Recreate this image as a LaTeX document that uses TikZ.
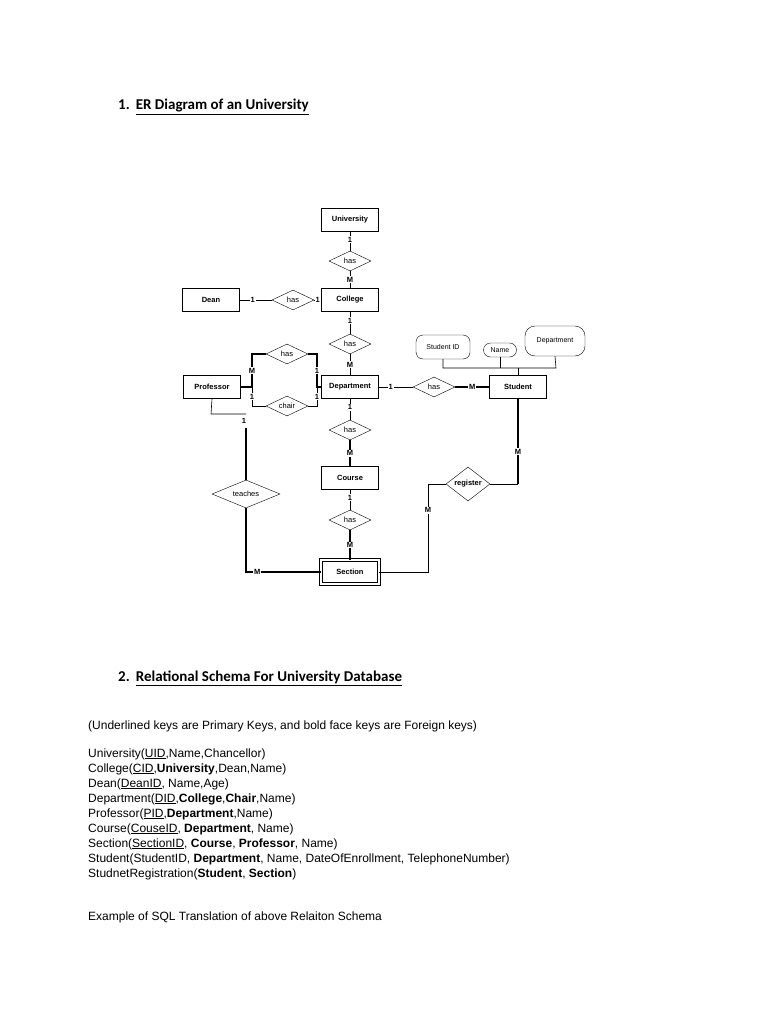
\documentclass[tikz,border=0pt]{standalone}
\usepackage{fontspec}
\setmainfont{Liberation Sans}
\newfontfamily\headfont{Carlito}
\usetikzlibrary{shapes.geometric,calc}
\begin{document}
\begin{tikzpicture}[x=1pt,y=-1pt,
  ent/.style={draw,thick,minimum width=57pt,minimum height=23pt,font=\fontsize{7.5}{8}\selectfont\bfseries,inner sep=1pt},
  rel/.style={draw,diamond,aspect=2.1,minimum width=42pt,minimum height=20pt,inner sep=0pt,font=\fontsize{7.5}{8}\selectfont},
  att/.style={draw,rounded corners=7pt,inner sep=1pt,font=\fontsize{7}{8}\selectfont},
  card/.style={fill=white,inner sep=0.8pt,font=\fontsize{7.5}{8}\selectfont\bfseries},
  ln/.style={line width=0.6pt},
  tk/.style={line width=1.3pt},
  body/.style={anchor=base west,inner sep=0pt,font=\fontsize{12}{14}\selectfont},
  head/.style={anchor=base west,inner sep=0pt,font=\headfont\fontsize{15}{18}\selectfont\bfseries}]
\useasboundingbox[fill=white] (0,0) rectangle (768,1024);
\node[head] (h1) at (118,110) {1.\hspace{6pt}\underline{ER Diagram of an University}};
\node[ent] (uni) at (350,220) {University};
\node[rel] (r1) at (350,261) {has};
\node[ent] (col) at (350,300) {College};
\node[ent] (dean) at (211,300) {Dean};
\node[rel] (r2) at (293,300) {has};
\node[rel] (r3) at (350,344) {has};
\node[ent] (dep) at (350,387) {Department};
\node[ent] (prof) at (212,387) {Professor};
\node[rel] (r4) at (287,354) {has};
\node[rel] (r5) at (287,406) {chair};
\node[rel] (r6) at (434,387) {has};
\node[ent] (stu) at (518,387) {Student};
\node[att,minimum width=54pt,minimum height=24pt] (a1) at (443,347) {Student ID};
\node[att,minimum width=33pt,minimum height=14pt] (a2) at (500,350) {Name};
\node[att,minimum width=60pt,minimum height=30pt,rounded corners=10pt] (a3) at (555,341) {Department};
\node[rel] (r7) at (350,430) {has};
\node[ent] (cou) at (350,478) {Course};
\node[rel] (r8) at (350,520) {has};
\node[ent,double,double distance=2pt,minimum width=58pt,minimum height=24pt] (sec) at (350,572) {Section};
\node[rel,minimum width=68pt,minimum height=28pt] (r9) at (246,494) {teaches};
\node[rel,aspect=1.3,minimum width=44pt,minimum height=34pt,font=\fontsize{7.5}{8}\selectfont\bfseries] (r10) at (468,484) {register};
% connectors
\draw[ln] (uni) -- node[card,pos=0.4]{1} (r1);
\draw[ln] (r1) -- node[card]{M} (col);
\draw[ln] (dean) -- node[card,pos=0.4]{1} (r2);
\draw[ln] (r2) -- node[card,pos=0.5]{1} (col);
\draw[ln] (col) -- node[card,pos=0.4]{1} (r3);
\draw[ln] (r3) -- node[card]{M} (dep);
\draw[tk] (prof.east) -- (252,387) -- node[card,pos=0.5]{M} (252,354) -- (r4.west);
\draw[tk] (r4.east) -- (317,354) -- node[card,pos=0.5]{1} (317,387) -- (dep.west);
\draw[ln] (252,387) -- node[card,pos=0.5]{1} (252,406) -- (r5.west);
\draw[ln] (r5.east) -- (317,406) -- node[card,pos=0.5]{1} (317,387);
\draw[ln] (dep) -- node[card,pos=0.35]{1} (r6);
\draw[tk] (r6) -- node[card,pos=0.5]{M} (stu);
\draw[ln] (a1.south) -- (443,368) -- (556,368) -- (a3.south);
\draw[ln] (a2.south) -- (500,368);
\draw[ln] (518,368) -- (stu.north);
\draw[ln] (dep) -- node[card,pos=0.4]{1} (r7);
\draw[tk] (r7) -- node[card]{M} (cou);
\draw[ln] (cou) -- node[card,pos=0.4]{1} (r8);
\draw[tk] (r8) -- node[card]{M} (sec);
\coordinate (pc) at (246,414);
\draw[ln] (prof.south) -- (211,414) -- (pc);
\draw[tk] (246,428) -- (r9.north);
\node[card] (one) at (244,421) {1};
\draw[tk] (r9.south) -- (246,572) -- node[card,pos=0.15]{M} (sec.west);
\draw[ln] (sec.east) -- (428,572) -- node[card,pos=0.7]{M} (428,484) -- (r10.west);
\draw[ln] (r10.east) -- (518,484);
\draw[tk] (518,484) -- node[card,pos=0.38]{M} (stu.south);
% text
\node[head] (h2) at (118,681) {2.\hspace{6pt}\underline{Relational Schema For University Database}};
\node[body] (t0) at (88,729) {(Underlined keys are Primary Keys, and bold face keys are Foreign keys)};
\node[body] (t1) at (88,757) {University(\underline{UID},Name,Chancellor)};
\node[body] (t2) at (88,772) {College(\underline{CID},\textbf{University},Dean,Name)};
\node[body] (t3) at (88,787) {Dean(\underline{DeanID}, Name,Age)};
\node[body] (t4) at (88,802) {Department(\underline{DID},\textbf{College},\textbf{Chair},Name)};
\node[body] (t5) at (88,817) {Professor(\underline{PID},\textbf{Department},Name)};
\node[body] (t6) at (88,832) {Course(\underline{CouseID}, \textbf{Department}, Name)};
\node[body] (t7) at (88,847) {Section(\underline{SectionID}, \textbf{Course}, \textbf{Professor}, Name)};
\node[body] (t8) at (88,862) {Student(StudentID, \textbf{Department}, Name, DateOfEnrollment, TelephoneNumber)};
\node[body] (t9) at (88,877) {StudnetRegistration(\textbf{Student}, \textbf{Section})};
\node[body] (t10) at (88,920) {Example of SQL Translation of above Relaiton Schema};
\end{tikzpicture}
\end{document}
